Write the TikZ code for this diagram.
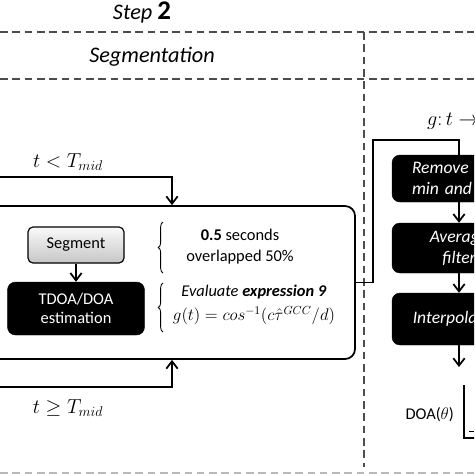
\documentclass[tikz,border=0pt]{standalone}
\usepackage{fontspec}
\setmainfont{Carlito}
\usepackage{xcolor}
\usepackage{tikz}
\usetikzlibrary{arrows.meta,decorations.pathreplacing}

\tikzset{
  sepline/.style={black!70, line width=1pt, dash pattern=on 6.5pt off 4pt},
  flow/.style={line width=1.5pt, -{Straight Barb[length=2.2mm,width=3.4mm,line width=1.5pt]}},
  blackbox/.style={fill=black, draw=black, rounded corners=0.24cm, text=white, align=center,
    font=\fontsize{14}{16}\selectfont},
  sidebox/.style={blackbox, minimum width=4.02cm, font=\fontsize{15}{18}\selectfont\itshape},
  greybox/.style={top color=gray!4, bottom color=gray!45, draw=black, line width=1pt,
    rounded corners=0.15cm, font=\fontsize{14}{16}\selectfont},
  curly/.style={decorate, decoration={brace, amplitude=4pt}, line width=0.7pt},
  note/.style={align=center, font=\fontsize{14}{18}\selectfont}
}

\begin{document}
\begin{tikzpicture}[x=0.03cm,y=-0.03cm]
\useasboundingbox (0,0) rectangle (474,474);
\clip (0,0) rectangle (474,474);

% step header and separators
\node (step) at (142,12) {\fontsize{19}{20}\selectfont\textit{Step} \textbf{\fontsize{23}{23}\selectfont 2}};
\draw [sepline] (0,32) -- (474,32);
\draw [sepline] (0,79) -- (474,79);
\draw [sepline] (364,32) -- (364,467);
\draw [sepline,gray!55] (0,473) -- (474,473);
\node (segtitle) at (152,57) {\fontsize{19}{20}\selectfont\itshape Segmentation};

% segmentation block
\node [draw,line width=1.5pt,rounded corners=0.3cm,minimum width=10.98cm,minimum height=4.59cm] (proc) at (172,282.5) {};
\node [greybox,minimum width=2.88cm,minimum height=1.08cm] (seg) at (76,245) {Segment};
\node [blackbox,minimum width=4.11cm,minimum height=1.59cm] (tdoa) at (76,308.5) {TDOA/DOA\\estimation};
\draw [flow] (seg) -- (tdoa);

\draw [curly] (163,273) -- (163,222);
\draw [curly] (163,332) -- (163,283);
\node [note] (segnote) at (240,247) {\textbf{0.5} seconds\\overlapped 50\%};
\node [note,font=\fontsize{14}{20}\selectfont] (doanote) at (254,305) {\textit{Evaluate} \textbf{\textit{expression 9}}\\[1pt]$g(t) = cos^{-1}(c\hat{\tau}^{GCC}/d)$};

% time split
\coordinate (lin) at (0,177);
\coordinate (lout) at (0,387);
\draw [flow] (lin) -| (proc.north);
\draw [flow] (lout) -| (proc.south);
\node (ltlabel) at (68,162) {\fontsize{17}{18}\selectfont$t < T_{mid}$};
\node (gelabel) at (68,408) {\fontsize{17}{18}\selectfont$t \geq T_{mid}$};

% post-processing column
\node [anchor=west] (gmap) at (423,121) {\fontsize{17}{18}\selectfont$g\colon t \rightarrow$};
\node [sidebox,text width=2.82cm,inner xsep=0.6cm,align=left,minimum height=1.41cm] (remove) at (459,178.5) {Remove\\min and};
\node [sidebox,minimum height=1.5cm] (avg) at (459,248) {Average\\filter};
\node [sidebox,minimum height=1.56cm] (interp) at (459,319) {Interpolation};
\coordinate (rturn) at (373,140);
\draw [line width=1.5pt] (proc.east) -| (rturn) -| (remove.north);
\draw [flow] (remove) -- (avg);
\draw [flow] (avg) -- (interp);
\coordinate (doaend) at (459,367);
\draw [flow] (interp) -- (doaend);

% output axes
\node [anchor=east,font=\fontsize{14}{16}\selectfont] (doalabel) at (458,415) {DOA($\theta$)};
\coordinate (axtop) at (464,385);
\coordinate (axorig) at (464,438);
\coordinate (axright) at (490,438);
\draw [line width=1.2pt] (axtop) -- (axorig) -- (axright);
\draw [line width=0.8pt] (469,431) -- (474,431);
\end{tikzpicture}
\end{document}
